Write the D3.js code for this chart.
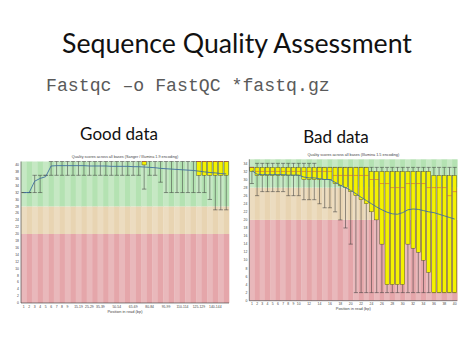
<!DOCTYPE html>
<html>
<head>
<meta charset="utf-8">
<script src="https://cdnjs.cloudflare.com/ajax/libs/d3/7.8.5/d3.min.js"></script>
<style>
  body { margin: 0; background: #fff; }
  svg { display: block; }
</style>
</head>
<body>
<div id="slide"></div>
<script>
// ---- good data (Sanger / Illumina 1.9) ----
const goodCats = ["1","2","3","4","5","6","7","8","9","10-14","15-19","20-24","25-29","30-34","35-39",
  "40-44","45-49","50-54","55-59","60-64","65-69","70-74","75-79","80-84","85-89","90-94","95-99",
  "100-104","105-109","110-114","115-119","120-124","125-129","130-134","135-139","140-144","145-149","150-151"]
const goodTicks = ["1","2","3","4","5","6","7","8","9","15-19","25-29","35-39","50-54","65-69","80-84",
  "95-99","110-114","125-129","140-144"]
const goodLow  = [32,32,32,32,37, 37,37,37,37,37,37,37,37,37,37,37,37,37,37,37,37,37, 33,37,37,35,
  32,32,32,32,32,32,32,32, 30,27,27,27]
const goodQ1   = [32,32,37,37,37, 41,41,41,41,41,41,41,41,41,41,41,41,41,41,41,41,41, 40,
  41,41,41,41,41,41,41,41,41, 37,37,37,37,37,37]
const goodMed  = [32,32,37,37,37, 41,41,41,41,41,41,41,41,41,41,41,41,41,41,41,41,41,41,41,41,41,
  41,41,41,41,41,41,41,41,41,41,41,41]
const goodQ3   = goodMed
const goodHigh = goodMed
const goodMean = [32,32,35.3,36.1,36.6,39.7,39.8,39.8,39.8,39.8,39.8,39.8,39.7,39.7,39.7,39.7,39.6,39.6,
  39.6,39.6,39.5,39.5,39.4,39.3,39.2,39.0,38.9,38.8,38.7,38.6,38.5,38.4,38.2,38.0,37.8,37.7,37.5,37.4]
const goodYTicks = d3.range(0, 41, 2)

// ---- bad data (Illumina 1.5) ----
const badCats = d3.range(1, 41).map(String)
const badTicks = ["1","2","3","4","5","6","7","8","9","10","12","14","16","18","20","22","24","26",
  "28","30","32","34","36","38","40"]
const badLow  = [29,26,27,27,27,27,27,26,26,26,25,25,25,24,23,23,22,20,18,14,
  2,2,2,2,2,2,2,2,2,2,2,2,2,2,2,2,2,2,2,2]
const badQ1   = [32,31,31,31,31,31,31,31,31,31,30,30,30,30,30,30,29,28.5,28,27,26,25,24,22,20,14,
  4,4,4,4,14,13,12,10,7,2,2,2,2,2]
const badMed  = [33,32,32,32,32,32,32,32,32,32,32,32,32,32,32,32,31,31,31,31,31,31,31,30,30,29,29,
  28,28,28,29,29,29,29,28,28,28,28,26,27]
const badQ3   = [33,33,33,33,33,33,33,33,33,33,33,33,33,33,33,33,33,33,33,33,33,33,33,
  32,32,32,32,32,32,32,32,32,32,32,32,31,31,31,31,31]
const badHigh = [33,34,34,34,34,34,34,34,34,34,34,34,34,33,33,33,33,33,33,33,33,33,33,33,33,33,33,
  33,33,33,33,33,33,33,33,33,33,33,33,33]
const badMean = [32.2,31.3,31.2,31.2,31.2,31.2,31.2,31.1,31.1,31.1,30.6,30.4,30.4,30.2,30.0,30.0,29.3,
  28.6,28.0,27.3,26.5,25.6,24.8,24.0,23.2,22.5,21.9,21.5,21.4,21.8,22.5,22.7,22.6,22.3,22.0,21.8,
  21.4,21.0,20.6,20.2]
const badYTicks = d3.range(0, 35, 2)

const W = 474, H = 355
const svg = d3.select('#slide').append('svg').attr('width', W).attr('height', H)

// shrink/grow a text so it spans a given width
function fitWidth(sel, target) {
  const w = sel.node().getComputedTextLength()
  const fs = parseFloat(sel.attr('font-size'))
  sel.attr('font-size', fs * target / w)
}

// slide texts
fitWidth(svg.append('text').attr('x', 237).attr('y', 53).attr('text-anchor', 'middle')
  .attr('font-family', 'Lato, "Open Sans", sans-serif').attr('font-size', 29).attr('fill', '#111')
  .text('Sequence Quality Assessment'), 350)

fitWidth(svg.append('text').attr('x', 46).attr('y', 91)
  .attr('font-family', '"Liberation Mono", "DejaVu Sans Mono", monospace').attr('font-size', 18.2)
  .attr('fill', '#5a5a5a').text('Fastqc \u2013o FastQC *fastq.gz'), 284)

svg.append('text').attr('x', 119).attr('y', 140).attr('text-anchor', 'middle')
  .attr('font-family', 'Lato, "Open Sans", sans-serif').attr('font-size', 17).attr('fill', '#111')
  .text('Good data')
svg.append('text').attr('x', 336).attr('y', 143).attr('text-anchor', 'middle')
  .attr('font-family', 'Lato, "Open Sans", sans-serif').attr('font-size', 17).attr('fill', '#111')
  .text('Bad data')

function drawChart(p) {
  const g = svg.append('g')
  const x = d3.scaleBand().domain(p.cats).range([p.left, p.right])
  const y = d3.scaleLinear().domain([0, p.top]).range([p.bottom, p.topPx])
  const bw = x.bandwidth()

  // coloured zones with alternating stripes
  const zones = [
    { lo: 0, hi: 20, c: ['#e9b8bb', '#e5a6aa'] },
    { lo: 20, hi: 28, c: ['#ecdcc0', '#e8d4b2'] },
    { lo: 28, hi: p.top, c: ['#c6e8c4', '#b4e2b2'] }
  ]
  zones.forEach(z => {
    g.append('g').selectAll('rect').data(p.cats).join('rect')
      .attr('x', d => x(d)).attr('width', bw + 0.3)
      .attr('y', y(z.hi)).attr('height', y(z.lo) - y(z.hi))
      .attr('fill', (d, i) => z.c[i % 2])
  })

  const rows = p.cats.map((c, i) => ({ c, lo: p.low[i], q1: p.q1[i], med: p.med[i], q3: p.q3[i], hi: p.high[i], mean: p.mean[i] }))
  const bx = d => x(d.c) + bw * 0.1, bwid = bw * 0.8

  // whiskers
  const wk = g.append('g').attr('stroke', '#333').attr('stroke-width', 0.5)
  wk.selectAll('.v').data(rows).join('line')
    .attr('x1', d => x(d.c) + bw / 2).attr('x2', d => x(d.c) + bw / 2)
    .attr('y1', d => y(d.lo)).attr('y2', d => y(d.hi))
  wk.selectAll('.lc').data(rows).join('line')
    .attr('x1', bx).attr('x2', d => bx(d) + bwid)
    .attr('y1', d => y(d.lo)).attr('y2', d => y(d.lo))
  wk.selectAll('.hc').data(rows).join('line')
    .attr('x1', bx).attr('x2', d => bx(d) + bwid)
    .attr('y1', d => y(d.hi)).attr('y2', d => y(d.hi))

  // boxes
  g.append('g').selectAll('rect').data(rows.filter(d => d.q3 > d.q1)).join('rect')
    .attr('x', bx).attr('width', bwid)
    .attr('y', d => y(d.q3)).attr('height', d => y(d.q1) - y(d.q3))
    .attr('fill', '#f4f200').attr('stroke', '#333').attr('stroke-width', 0.4)

  // medians
  g.append('g').selectAll('line').data(rows.filter(d => d.q3 > d.q1)).join('line')
    .attr('x1', bx).attr('x2', d => bx(d) + bwid)
    .attr('y1', d => y(d.med)).attr('y2', d => y(d.med))
    .attr('stroke', '#c44').attr('stroke-width', 0.5)

  // mean line
  g.append('path').datum(rows)
    .attr('d', d3.line().x(d => x(d.c) + bw / 2).y(d => y(d.mean)))
    .attr('fill', 'none').attr('stroke', '#3f6f9f').attr('stroke-width', 0.9)

  // axes lines
  g.append('path').attr('d', `M${p.left},${p.topPx}V${p.bottom}H${p.right}`)
    .attr('fill', 'none').attr('stroke', '#333').attr('stroke-width', 0.6)

  const font = 'Arial, "Liberation Sans", sans-serif'
  g.append('g').selectAll('text').data(p.yTicks).join('text')
    .attr('x', p.left - 2).attr('y', d => y(d)).attr('dy', '0.35em')
    .attr('text-anchor', 'end').attr('font-family', font).attr('font-size', 3.4)
    .attr('fill', '#444').text(d => d)
  g.append('g').selectAll('text').data(p.ticks).join('text')
    .attr('x', d => x(d) + bw / 2).attr('y', p.bottom + 4.5)
    .attr('text-anchor', 'middle').attr('font-family', font).attr('font-size', 3.4)
    .attr('fill', '#444').text(d => d)

  fitWidth(g.append('text').attr('x', (p.left + p.right) / 2).attr('y', p.titleY)
    .attr('text-anchor', 'middle').attr('font-family', font).attr('font-size', 3.5)
    .attr('fill', '#444').text(p.title), p.titleW)
  fitWidth(g.append('text').attr('x', (p.left + p.right) / 2).attr('y', p.bottom + 9.5)
    .attr('text-anchor', 'middle').attr('font-family', font).attr('font-size', 3.5)
    .attr('fill', '#444').text('Position in read (bp)'), 35)
}

drawChart({
  cats: goodCats, ticks: goodTicks, yTicks: goodYTicks,
  low: goodLow, q1: goodQ1, med: goodMed, q3: goodQ3, high: goodHigh, mean: goodMean,
  left: 21, right: 229, topPx: 161.5, bottom: 303, top: 41,
  title: 'Quality scores across all bases (Sanger / Illumina 1.9 encoding)', titleY: 158, titleW: 107
})

drawChart({
  cats: badCats, ticks: badTicks, yTicks: badYTicks,
  low: badLow, q1: badQ1, med: badMed, q3: badQ3, high: badHigh, mean: badMean,
  left: 249.3, right: 457.3, topPx: 159.3, bottom: 300.7, top: 35,
  title: 'Quality scores across all bases (Illumina 1.5 encoding)', titleY: 156, titleW: 92
})
</script>
</body>
</html>
